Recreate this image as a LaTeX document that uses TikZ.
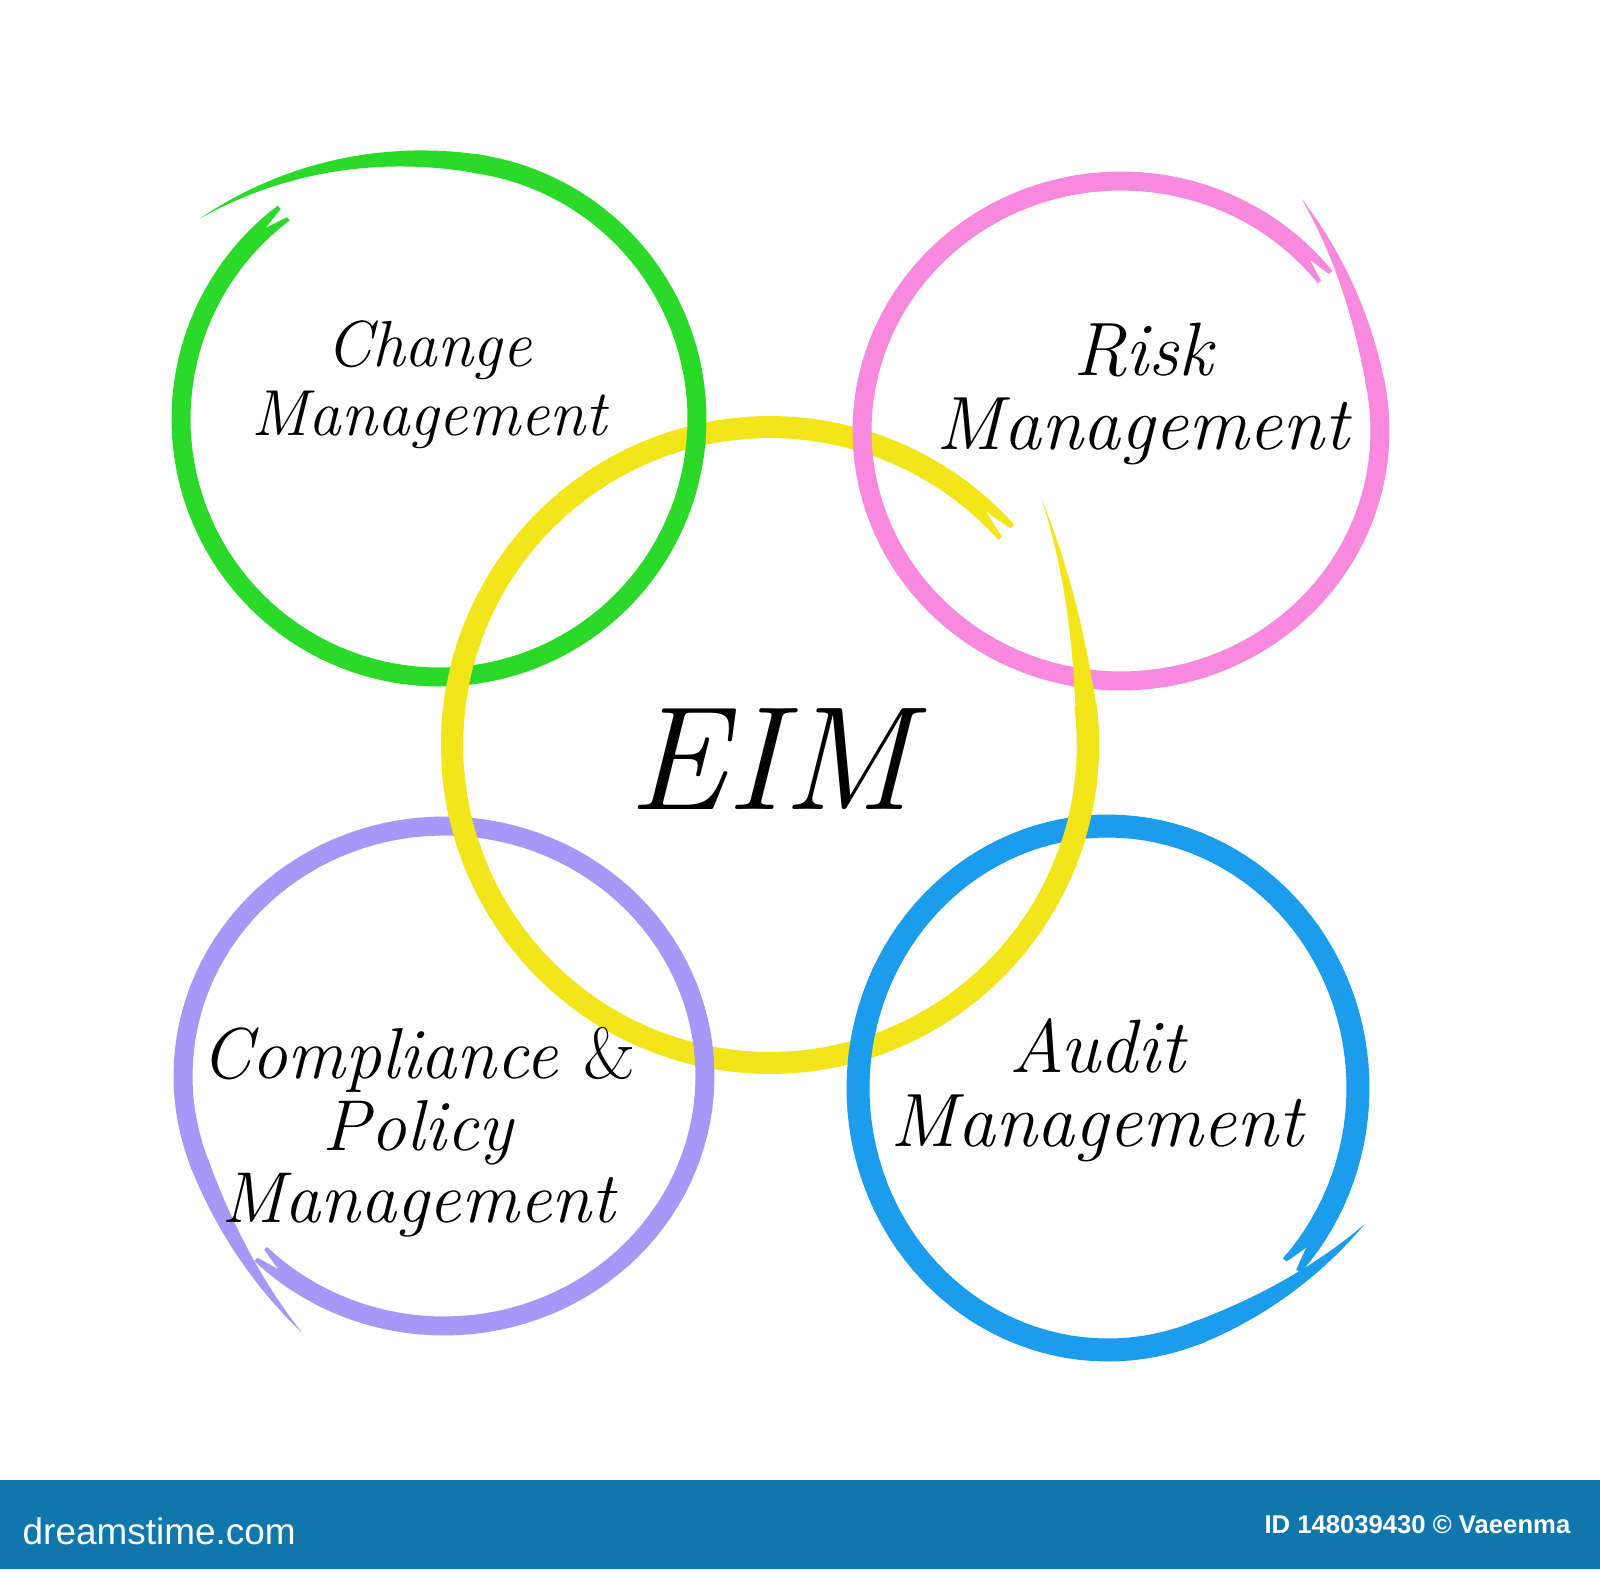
\documentclass[tikz,border=0pt]{standalone}
\usepackage{fontspec}
\usepackage{tikz}
\usetikzlibrary{positioning}
\newfontfamily\barfont{Liberation Sans}

\definecolor{ringgreen}{RGB}{43,217,41}
\definecolor{ringpink}{RGB}{247,138,222}
\definecolor{ringyellow}{RGB}{242,229,26}
\definecolor{ringpurple}{RGB}{167,151,246}
\definecolor{ringblue}{RGB}{28,156,236}
\definecolor{barblue}{RGB}{16,119,173}

% thick part of a ring (angles go clockwise on the page)
\newcommand{\sketcharc}[6]{%
  \draw[#1, line width=#4*0.01cm] plot[domain=#5:#6, samples=120, variable=\a]
    ({#2*cos(\a)},{#3*sin(\a)});}
% V cut at the start of the stroke
\newcommand{\sketchnotch}[5]{%
  \fill[white] ({#1*cos(#4-#5)},{#2*sin(#4-#5)})
    -- ({(#1+0.32*#3)*cos(#4+1)},{(#2+0.32*#3)*sin(#4+1)})
    -- ({(#1-0.32*#3)*cos(#4+1)},{(#2-0.32*#3)*sin(#4+1)}) -- cycle;}
% thin tail running outwards
\newcommand{\sketchtail}[8]{%
  \fill[#1, declare function={tp(\t)=(\t-(#5))/((#6)-(#5));
      gr(\t)=#7*tp(\t)*tp(\t);
      hw(\t)=#4/2*(1-tp(\t))*(1+#8*tp(\t));}]
    plot[domain=#5:#6, samples=50, variable=\a]
      ({(#2+gr(\a)+hw(\a))*cos(\a)},{(#3+gr(\a)+hw(\a))*sin(\a)})
    -- plot[domain=#6:#5, samples=50, variable=\a]
      ({(#2+gr(\a)-hw(\a))*cos(\a)},{(#3+gr(\a)-hw(\a))*sin(\a)})
    -- cycle;}

\begin{document}
\begin{tikzpicture}[x=0.01cm, y=-0.01cm,
    ringtext/.style={font=\fontsize{21.5}{21}\selectfont\itshape, align=center, inner sep=0pt},
    eimtext/.style={font=\fontsize{42}{42}\selectfont\itshape, inner sep=0pt}]
  \fill[white] (0,0) rectangle (1600,1569);
  \useasboundingbox (0,0) rectangle (1600,1569);
  \def\yr{318}
  % centre ring
  \begin{scope}[shift={(770,745)}]
    \sketcharc{ringyellow}{\yr}{\yr}{22}{318}{-7}
    \sketchnotch{\yr}{\yr}{22}{318}{5}
  \end{scope}
  % outer rings
  \begin{scope}[shift={(439,419)}]
    \sketcharc{ringgreen}{258}{258}{19}{233}{-82}
    \sketchnotch{258}{258}{19}{233}{5}
    \sketchtail{ringgreen}{258}{258}{19}{-80}{-140}{54}{0.6}
  \end{scope}
  \begin{scope}[shift={(1121,431)}]
    \sketcharc{ringpink}{259}{250}{19}{322}{-12}
    \sketchnotch{259}{250}{19}{322}{5}
    \sketchtail{ringpink}{259}{250}{19}{-10}{-53}{41}{0.8}
  \end{scope}
  \begin{scope}[shift={(444,1076)}]
    \sketcharc{ringpurple}{261}{250}{19}{134.6}{-202}
    \sketchnotch{261}{250}{19}{134.6}{5}
    \sketchtail{ringpurple}{261}{250}{19}{-200}{-242}{41}{0.8}
  \end{scope}
  \begin{scope}[shift={(1108,1088)}]
    \sketcharc{ringblue}{250}{262}{23}{42.7}{-292}
    \sketchnotch{250}{262}{23}{42.7}{5}
    \sketchtail{ringblue}{250}{262}{23}{-290}{-333}{38}{0.8}
  \end{scope}
  % yellow back on top where it crosses over
  \begin{scope}[shift={(770,745)}]
    \sketcharc{ringyellow}{\yr}{\yr}{22}{202}{183}
    \sketcharc{ringyellow}{\yr}{\yr}{22}{176}{156}
    \sketcharc{ringyellow}{\yr}{\yr}{22}{26}{6}
    \sketcharc{ringyellow}{\yr}{\yr}{22}{8}{-7}
    \sketchtail{ringyellow}{\yr}{\yr}{22}{-5}{-42}{48}{0}
  \end{scope}
  % texts
  \node[ringtext, font=\fontsize{18.5}{19.5}\selectfont\itshape] (change) at (429,385) {Change\\Management};
  \node[ringtext] (risk) at (1143,394) {Risk\\Management};
  \node[eimtext] (eim) at (770,759) {EIM};
  \node[ringtext, font=\fontsize{20.5}{20.5}\selectfont\itshape] (compliance) at (418,1132) {Compliance {\upshape\&}\\Policy\\Management};
  \node[ringtext] (audit) at (1097,1090) {Audit\\Management};
  % bottom bar
  \fill[barblue] (0,1480) rectangle (1600,1569);
  \node[anchor=west, white, inner sep=0pt, font=\barfont\fontsize{10.5}{12}\selectfont] (site) at (22,1531) {dreamstime.com};
  \node[anchor=east, white, inner sep=0pt, font=\barfont\bfseries\fontsize{7.3}{9}\selectfont] (imageid) at (1571,1525) {ID 148039430 © Vaeenma};
\end{tikzpicture}
\end{document}
